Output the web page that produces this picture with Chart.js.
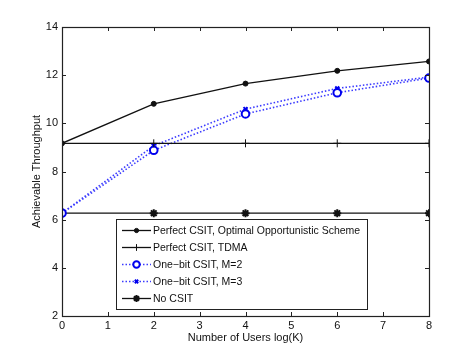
<!DOCTYPE html>
<html><head><meta charset="utf-8">
<script src="https://cdn.jsdelivr.net/npm/chart.js@4/dist/chart.umd.min.js"></script>
<style>html,body{margin:0;padding:0;background:#fff}#wrap{width:474px;height:355px}</style>
</head><body><div id="wrap"><canvas id="c" width="474" height="355"></canvas></div>
<script>
const users = [0, 2, 4, 6, 8];
const optimal = [9.17, 10.81, 11.65, 12.18, 12.57];
const tdma = [9.17, 9.17, 9.17, 9.17, 9.17];
const oneBitM2 = [6.27, 8.88, 10.39, 11.27, 11.88];
const oneBitM3 = [6.27, 9.07, 10.59, 11.45, 11.92];
const noCsit = [6.27, 6.27, 6.27, 6.27, 6.27];
const seriesNames = ['Perfect CSIT, Optimal Opportunistic Scheme', 'Perfect CSIT, TDMA', 'One\u2212bit CSIT, M=2', 'One\u2212bit CSIT, M=3', 'No CSIT'];
const xTicks = [0,1,2,3,4,5,6,7,8];
const yTicks = [2,4,6,8,10,12,14];

const FONT = '"Liberation Sans", Arial, Helvetica, sans-serif';
const pts = arr => users.map((x,i)=>({x, y: arr[i]}));

const boxPlugin = {
  id: 'boxTicks',
  afterDatasetsDraw(chart) {
    const {ctx, chartArea: a, scales} = chart;
    ctx.save();
    ctx.strokeStyle = '#222'; ctx.lineWidth = 1;
    ctx.beginPath();
    xTicks.forEach(v => { const px = Math.round(scales.x.getPixelForValue(v)) + 0.5;
      ctx.moveTo(px, a.bottom); ctx.lineTo(px, a.bottom - 4);
      ctx.moveTo(px, a.top); ctx.lineTo(px, a.top + 4); });
    yTicks.forEach(v => { const py = Math.round(scales.y.getPixelForValue(v)) + 0.5;
      ctx.moveTo(a.left, py); ctx.lineTo(a.left + 4, py);
      ctx.moveTo(a.right, py); ctx.lineTo(a.right - 4, py); });
    ctx.stroke();
    ctx.lineWidth = 1.2;
    ctx.strokeRect(Math.round(a.left)+0.5, Math.round(a.top)+0.5, Math.round(a.right-a.left), Math.round(a.bottom-a.top));
    ctx.restore();
  },
  afterDraw(chart) {
    const {ctx} = chart;
    const L = 116, T = 219, R = 367, B = 309;
    ctx.save();
    ctx.fillStyle = '#fff';
    ctx.fillRect(L, T, R-L, B-T);
    ctx.strokeStyle = '#222'; ctx.lineWidth = 1;
    ctx.strokeRect(L+0.5, T+0.5, R-L, B-T);
    ctx.font = '10.5px ' + FONT;
    ctx.textBaseline = 'middle';
    chart.data.datasets.forEach((ds, i) => {
      const y = 230 + i * 17;
      ctx.save();
      ctx.strokeStyle = ds.borderColor; ctx.lineWidth = ds.borderWidth;
      ctx.setLineDash(ds.borderDash || []);
      ctx.beginPath(); ctx.moveTo(122, y+0.5); ctx.lineTo(151, y+0.5); ctx.stroke();
      ctx.setLineDash([]);
      ctx.fillStyle = ds.pointBackgroundColor; ctx.strokeStyle = ds.pointBorderColor; ctx.lineWidth = ds.pointBorderWidth;
      Chart.helpers.drawPoint(ctx, {pointStyle: ds.pointStyle, radius: ds.pointRadius * 0.85, rotation: 0, borderWidth: ds.pointBorderWidth}, 136.5, y+0.5);
      ctx.restore();
      ctx.fillStyle = '#111';
      ctx.fillText(seriesNames[i], 153, y + 1);
    });
    ctx.restore();
  }
};

new Chart(document.getElementById('c'), {
  type: 'line',
  data: { datasets: [
    { label: seriesNames[0], data: pts(optimal), borderColor: '#111', borderWidth: 1.3,
      pointStyle: 'circle', pointRadius: 2.5, pointBackgroundColor: '#111', pointBorderColor: '#111', pointBorderWidth: 1 },
    { label: seriesNames[1], data: pts(tdma), borderColor: '#111', borderWidth: 1.3,
      pointStyle: 'cross', pointRadius: 4, pointBackgroundColor: '#111', pointBorderColor: '#111', pointBorderWidth: 1 },
    { label: seriesNames[2], data: pts(oneBitM2), borderColor: '#3b3bff', borderWidth: 1.6, borderDash: [1.5, 2],
      pointStyle: 'circle', pointRadius: 3.8, pointBackgroundColor: '#fff', pointBorderColor: '#0000ee', pointBorderWidth: 2 },
    { label: seriesNames[3], data: pts(oneBitM3), borderColor: '#3b3bff', borderWidth: 1.6, borderDash: [1.5, 2],
      pointStyle: 'crossRot', pointRadius: 2.8, pointBackgroundColor: '#0000ee', pointBorderColor: '#0000ee', pointBorderWidth: 2 },
    { label: seriesNames[4], data: pts(noCsit), borderColor: '#111', borderWidth: 1.3,
      pointStyle: 'star', pointRadius: 4, pointBackgroundColor: '#111', pointBorderColor: '#111', pointBorderWidth: 2 }
  ]},
  options: {
    responsive: false, animation: false,
    layout: { padding: { top: 27, right: 45, left: 0, bottom: 0 } },
    plugins: { legend: { display: false }, tooltip: { enabled: false } },
    elements: { line: { tension: 0 } },
    scales: {
      x: { type: 'linear', min: 0, max: 8,
        afterFit: s => { s.height = 39; },
        afterBuildTicks: s => { s.ticks = xTicks.map(v => ({value: v})); },
        grid: { display: false, drawTicks: false }, border: { display: false },
        ticks: { color: '#111', font: { family: FONT, size: 11 }, padding: 3, maxRotation: 0 },
        title: { display: true, text: 'Number of Users log(K)', color: '#111', font: { family: FONT, size: 11 }, padding: { top: 1, bottom: 10 } } },
      y: { min: 2, max: 14,
        afterFit: s => { s.width = 62; },
        afterBuildTicks: s => { s.ticks = yTicks.map(v => ({value: v})); },
        grid: { display: false, drawTicks: false }, border: { display: false },
        ticks: { color: '#111', font: { family: FONT, size: 11 }, padding: 4 },
        title: { display: true, text: 'Achievable Throughput', color: '#111', font: { family: FONT, size: 11 }, padding: { top: 30, bottom: 0 } } }
    }
  },
  plugins: [boxPlugin]
});
</script></body></html>
